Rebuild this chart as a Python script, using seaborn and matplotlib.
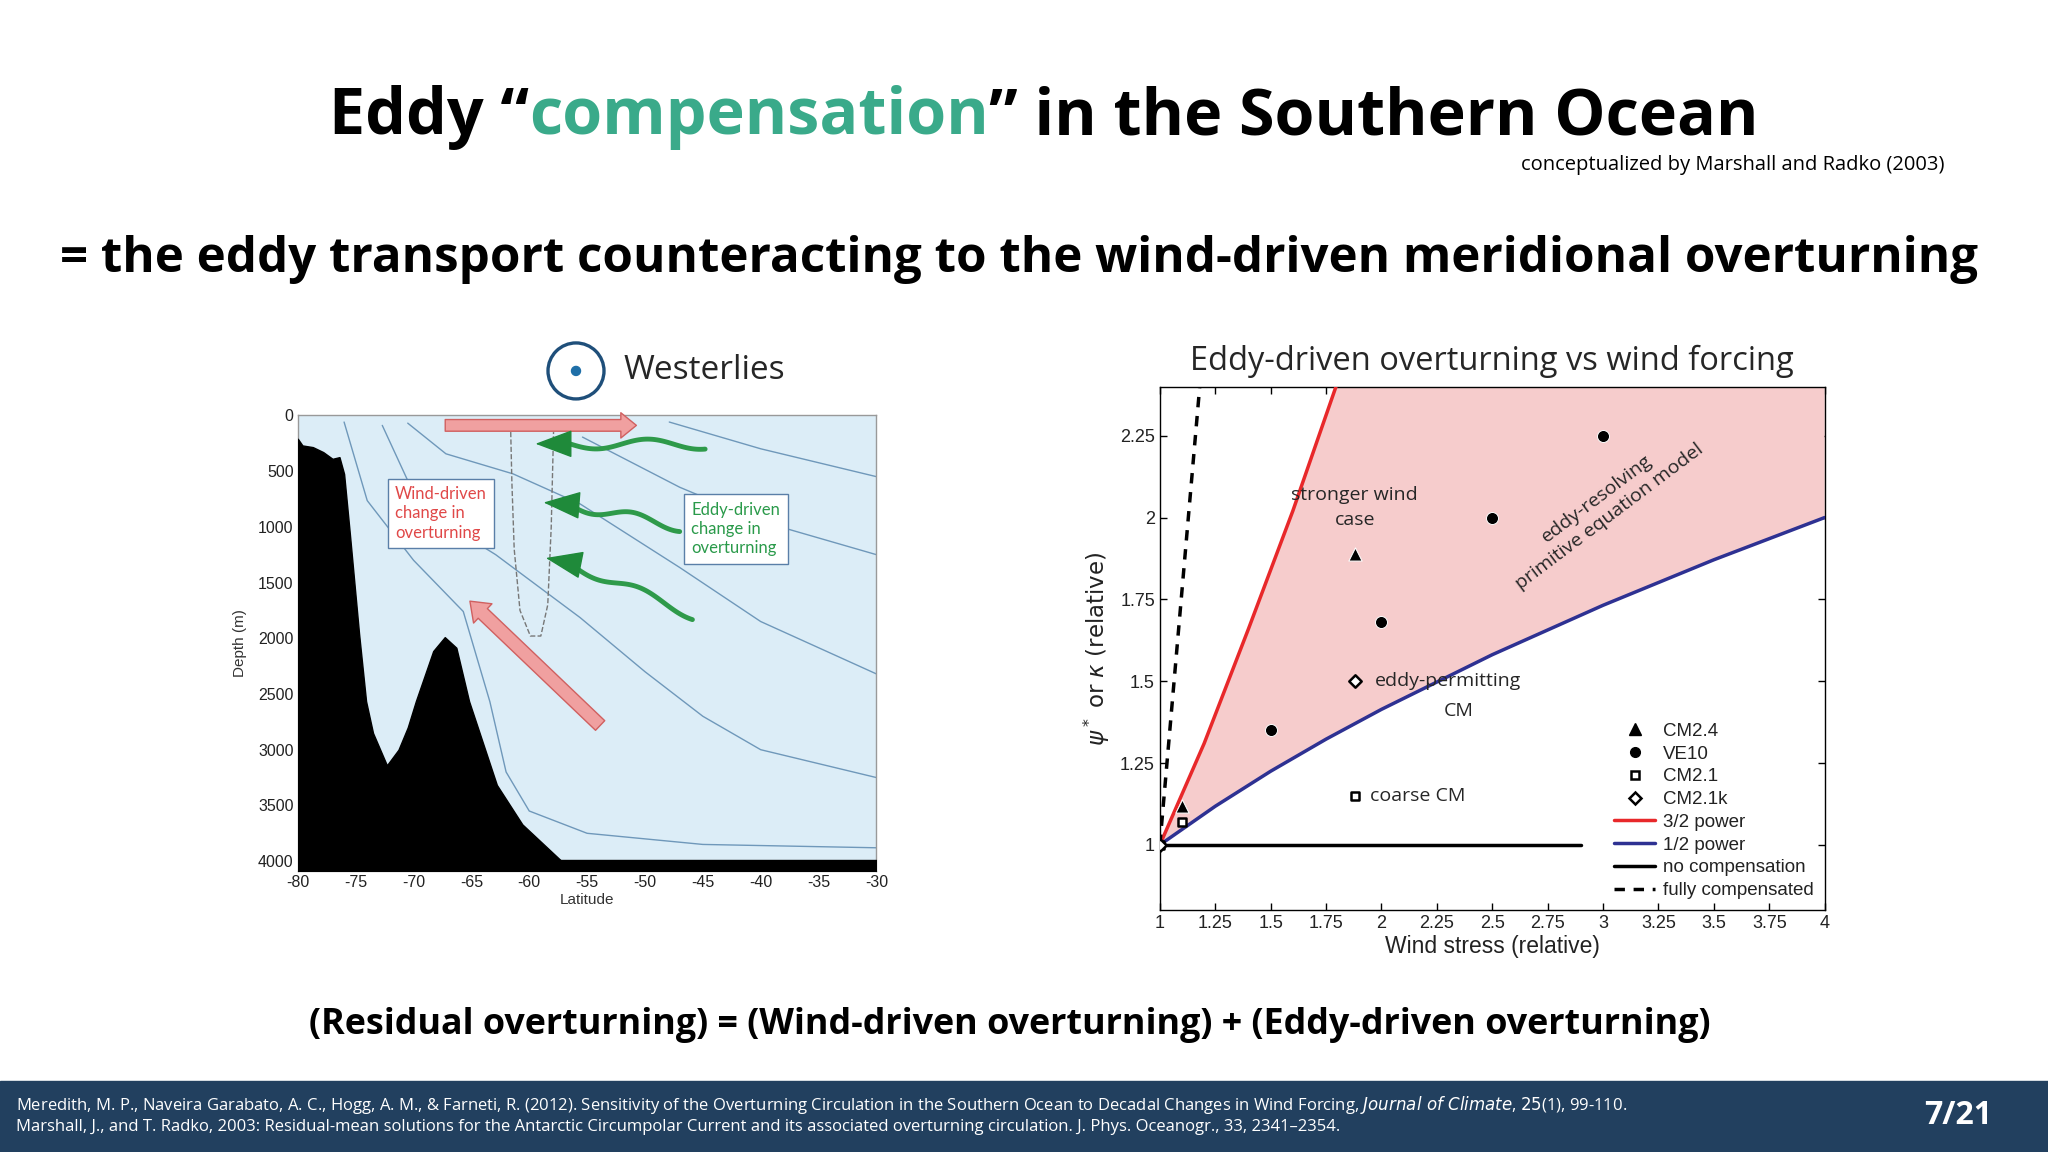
import numpy as np
import pandas as pd
import matplotlib
matplotlib.use("Agg")
import matplotlib.pyplot as plt
from matplotlib.lines import Line2D
from matplotlib.patches import Rectangle, Circle
import seaborn as sns

# ---------------- data ----------------
# right panel
wind_red = [1.0, 1.2, 1.4, 1.6, 1.8]
psi_red = [1.0, 1.31, 1.66, 2.02, 2.41]
wind_blue = [1.0, 1.25, 1.5, 1.75, 2.0, 2.5, 3.0, 3.5, 4.0]
psi_blue = [1.0, 1.118, 1.225, 1.323, 1.414, 1.581, 1.732, 1.871, 2.0]
wind_nocomp = [1.0, 2.9]
psi_nocomp = [1.0, 1.0]
wind_full = [1.0, 1.18]
psi_full = [1.0, 2.4]
cm24_x = [1.1, 1.88]; cm24_y = [1.12, 1.89]
ve10_x = [1.5, 2.0, 2.5, 3.0]; ve10_y = [1.35, 1.68, 2.0, 2.25]
cm21_x = [1.0, 1.1, 1.88]; cm21_y = [1.0, 1.07, 1.15]
cm21k_x = [1.0, 1.88]; cm21k_y = [1.0, 1.5]
xticks_r = [1, 1.25, 1.5, 1.75, 2, 2.25, 2.5, 2.75, 3, 3.25, 3.5, 3.75, 4]
yticks_r = [1, 1.25, 1.5, 1.75, 2, 2.25]

# left panel
bathy_lat = [-80, -79.6, -78.7, -77.8, -77, -76.4, -76, -75.5, -74.7, -74.1, -73.5, -72.3,
             -71.3, -70.5, -69.8, -68.3, -67.3, -66.3, -65.2, -62.8, -60.6, -57.2, -30]
bathy_dep = [210, 270, 285, 330, 390, 375, 525, 1065, 1965, 2565, 2850, 3140,
             3000, 2800, 2565, 2115, 1990, 2085, 2565, 3316, 3670, 4000, 4000]
contours = [
    ([-76, -74, -70, -65.7, -63.4, -62, -60, -55, -45, -30],
     [60, 765, 1300, 1760, 2570, 3200, 3550, 3750, 3850, 3880]),
    ([-72.7, -70.1, -66, -62.9, -55.6, -50, -45, -40, -30],
     [90, 675, 1050, 1250, 1815, 2300, 2700, 3000, 3250]),
    ([-70.5, -67.2, -61.4, -55.6, -47, -40, -30],
     [70, 345, 525, 795, 1365, 1850, 2320]),
    ([-55.4, -47, -40, -30], [195, 645, 950, 1250]),
    ([-47.9, -40, -30], [60, 300, 550]),
]
xticks_l = list(range(-80, -29, 5))
yticks_l = list(range(0, 4001, 500))

sns.set_theme(style="white")
plt.rcParams['font.family'] = ['Open Sans', 'DejaVu Sans']

fig = plt.figure(figsize=(20.48, 11.52), dpi=100)
W, H = 1568, 882
fx = lambda p: p / W
fy = lambda p: 1 - p / H

# titles
t_parts = [("Eddy \u201c", "black"), ("compensation", "#3aaa8a"), ("\u201d in the Southern Ocean", "black")]
renderer = fig.canvas.get_renderer()
x0 = fx(252)
for s, c in t_parts:
    t = fig.text(x0, fy(90), s, ha='left', va='center', fontsize=46.5, fontweight='bold', color=c)
    bb = t.get_window_extent(renderer=renderer)
    x0 += bb.width / fig.bbox.width
fig.text(fx(1489), fy(126), "conceptualized by Marshall and Radko (2003)", ha='right', va='center', fontsize=14.5,
         color='black')
fig.text(fx(780), fy(199), "= the eddy transport counteracting to the wind-driven meridional overturning",
         ha='center', va='center', fontsize=35.5, fontweight='bold', color='black')
fig.text(fx(773), fy(785), "(Residual overturning) = (Wind-driven overturning) + (Eddy-driven overturning)",
         ha='center', va='center', fontsize=25.8, fontweight='bold', color='black')

# bottom bar
fig.patches.append(Rectangle((0, 0), 1, 1 - 828 / H, transform=fig.transFigure, color='#22405f', zorder=0))
fig.text(fx(12), fy(846), "Meredith, M. P., Naveira Garabato, A. C., Hogg, A. M., & Farneti, R. (2012). Sensitivity of the Overturning Circulation in the Southern Ocean to Decadal Changes in Wind Forcing, $\\it{Journal\\ of\\ Climate}$, $\\it{25}$(1), 99-110.",
         color='white', fontsize=12, va='center')
fig.text(fx(12), fy(863), "Marshall, J., and T. Radko, 2003: Residual-mean solutions for the Antarctic Circumpolar Current and its associated overturning circulation. J. Phys. Oceanogr., 33, 2341\u20132354.",
         color='white', fontsize=12, va='center')
fig.text(fx(1525), fy(854), "7/21", color='white', fontsize=23, fontweight='bold', ha='right', va='center')

# ---------------- left panel ----------------
axl = fig.add_axes([fx(228), fy(667), fx(671) - fx(228), fy(318) - fy(667)])
axl.set_facecolor('#dcedf7')
for xs, ys in contours:
    sns.lineplot(x=xs, y=ys, ax=axl, color='#6f98ba', lw=1.0, sort=False, estimator=None)
axl.fill_between(bathy_lat, bathy_dep, 4100, color='black', zorder=3)
axl.fill_between([-80, -30], [3990, 3990], 4100, color='black', zorder=3)
axl.set_xlim(-80, -30)
axl.set_ylim(4090, 0)
axl.set_xticks(xticks_l)
axl.set_xticklabels([str(v) for v in xticks_l])
axl.set_yticks(yticks_l)
axl.set_yticklabels([str(v) for v in yticks_l])
axl.tick_params(labelsize=11.5, length=0, pad=3, colors='#222222')
for lab in axl.get_xticklabels() + axl.get_yticklabels():
    lab.set_family('Liberation Sans')
axl.set_xlabel("Latitude", fontsize=11, family='Liberation Sans', labelpad=2, color='#333333')
axl.set_ylabel("Depth (m)", fontsize=11, family='Liberation Sans', labelpad=8, color='#333333')
for s in axl.spines.values():
    s.set_color('#999999'); s.set_linewidth(1)

# dashed U
ux = [-61.6, -61.5, -61.3, -60.8, -59.9, -59.0, -58.4, -58.1, -57.9]
uy = [150, 600, 1200, 1750, 1980, 1980, 1700, 1000, 150]
axl.plot(ux, uy, ls='--', color='#777777', lw=1.0, zorder=4)
# pink arrows
axl.annotate("", xy=(-50.5, 90), xytext=(-67.5, 90),
             arrowprops=dict(arrowstyle='simple,head_length=0.8,head_width=1.3,tail_width=0.6',
                             fc='#f0a0a0', ec='#d06060', mutation_scale=14), zorder=5)
axl.annotate("", xy=(-65.3, 1650), xytext=(-53.7, 2800),
             arrowprops=dict(arrowstyle='simple,head_length=0.8,head_width=1.2,tail_width=0.6',
                             fc='#f0a0a0', ec='#d06060', mutation_scale=16), zorder=5)
# green wavy arrows
for (hx, hy, tx, ty) in [(-59.7, 255, -44.8, 260), (-59.0, 780, -47, 1000), (-58.8, 1275, -45.9, 1790)]:
    tt = np.linspace(0, 1, 60)
    sx = -56.5 + (tx + 56.5) * tt
    sy = (hy + (ty - hy) * 0.1) + (ty - hy) * 0.9 * tt + 45 * np.sin(tt * 2 * np.pi * 1.3)
    axl.plot(sx, sy, color='#2e9a4a', lw=3.5, solid_capstyle='round', zorder=5)
    axl.annotate("", xy=(hx, hy), xytext=(-56.3, sy[0]),
                 arrowprops=dict(arrowstyle='-|>,head_length=1.2,head_width=0.45', fc='#1f8a3a', ec='#1f8a3a', lw=1,
                                 mutation_scale=20), zorder=6)
axl.text(-71.6, 880, "Wind-driven\nchange in\noverturning", color='#e04848', fontsize=12, family='Lato',
         ha='left', va='center', linespacing=1.25, zorder=7,
         bbox=dict(boxstyle='square,pad=0.45', fc='white', ec='#5a7fa8', lw=1))
axl.text(-46.0, 1020, "Eddy-driven\nchange in\noverturning", color='#2a9a4a', fontsize=12, family='Lato',
         ha='left', va='center', linespacing=1.25, zorder=7,
         bbox=dict(boxstyle='square,pad=0.45', fc='white', ec='#5a7fa8', lw=1))

# westerlies
c1 = Circle((441 / W * 20.48, (1 - 284 / H) * 11.52), 0.28, transform=fig.dpi_scale_trans, fill=False,
            ec='#1f4f7a', lw=2.4)
c2 = Circle((441 / W * 20.48, (1 - 284 / H) * 11.52), 0.045, transform=fig.dpi_scale_trans, color='#1f6fa8')
fig.patches.extend([c1, c2])
fig.text(fx(477), fy(284), "Westerlies", fontsize=24, va='center')

# ---------------- right panel ----------------
axr = fig.add_axes([fx(888), fy(697), fx(1397) - fx(888), fy(296) - fy(697)])
poly_x = wind_red + [4.0] + wind_blue[::-1]
poly_y = psi_red + [2.41] + psi_blue[::-1]
axr.fill(poly_x, poly_y, color='#f6cccc', lw=0, zorder=1)
sns.lineplot(x=wind_red, y=psi_red, ax=axr, color='#e8282a', lw=2.5, estimator=None, zorder=3)
sns.lineplot(x=wind_blue, y=psi_blue, ax=axr, color='#2e3192', lw=2.5, estimator=None, zorder=3)
sns.lineplot(x=wind_nocomp, y=psi_nocomp, ax=axr, color='black', lw=2.5, estimator=None, zorder=3)
axr.plot(wind_full, psi_full, color='black', lw=2.5, ls=(0, (3, 2.5)), zorder=3)
sns.scatterplot(x=cm24_x, y=cm24_y, ax=axr, marker='^', s=90, color='black', zorder=5)
sns.scatterplot(x=ve10_x, y=ve10_y, ax=axr, marker='o', s=75, color='black', zorder=5)
axr.scatter(cm21_x, cm21_y, marker='s', s=40, facecolors='white', edgecolors='black', linewidths=1.8, zorder=5)
axr.scatter(cm21k_x, cm21k_y, marker='D', s=40, facecolors='white', edgecolors='black', linewidths=1.8, zorder=5)
axr.set_xlim(1, 4)
axr.set_ylim(0.8, 2.4)
axr.set_xticks(xticks_r)
axr.set_xticklabels([f"{v:g}" for v in xticks_r])
axr.set_yticks(yticks_r)
axr.set_yticklabels([f"{v:g}" for v in yticks_r])
axr.tick_params(direction='in', length=5, width=1, labelsize=13, top=True, right=True,
                bottom=True, left=True, color='black', labelcolor='#222222')
for lab in axr.get_xticklabels() + axr.get_yticklabels():
    lab.set_family('Liberation Sans')
for s in axr.spines.values():
    s.set_color('black'); s.set_linewidth(1)
axr.set_xlabel("Wind stress (relative)", fontsize=16.5, family='Liberation Sans', labelpad=2, color='#222222')
axr.set_ylabel(r"$\psi^*$ or $\kappa$ (relative)", fontsize=16.5, family='DejaVu Sans', labelpad=6, color='#222222')
axr.set_title("Eddy-driven overturning vs wind forcing", fontsize=23.5, pad=12)

axr.text(1.88, 2.03, "stronger wind\ncase", ha='center', va='center', fontsize=14, linespacing=1.5)
axr.text(1.97, 1.5, "eddy-permitting", ha='left', va='center', fontsize=14)
axr.text(2.35, 1.41, "CM", ha='center', va='center', fontsize=14)
axr.text(1.95, 1.15, "coarse CM", ha='left', va='center', fontsize=14)
axr.text(3.0, 2.03, "eddy-resolving\nprimitive equation model", ha='center', va='center', fontsize=14,
         rotation=37, linespacing=1.3)

handles = [
    Line2D([], [], marker='^', color='black', ls='none', ms=8),
    Line2D([], [], marker='o', color='black', ls='none', ms=7),
    Line2D([], [], marker='s', mfc='white', mec='black', mew=1.8, ls='none', ms=6),
    Line2D([], [], marker='D', mfc='white', mec='black', mew=1.8, ls='none', ms=6),
    Line2D([], [], color='#e8282a', lw=2.5),
    Line2D([], [], color='#2e3192', lw=2.5),
    Line2D([], [], color='black', lw=2.5),
    Line2D([], [], color='black', lw=2.5, ls=(0, (3, 2.5))),
]
labels = ["CM2.4", "VE10", "CM2.1", "CM2.1k", "3/2 power", "1/2 power", "no compensation", "fully compensated"]
leg = axr.legend(handles, labels, loc='lower right', frameon=False, fontsize=13.5, handlelength=2.2,
                 handletextpad=0.4, labelspacing=0.3, borderaxespad=0.2, bbox_to_anchor=(1.0, 0.0))
for t in leg.get_texts():
    t.set_family('Liberation Sans')
    t.set_color('#222222')

fig.savefig("out.png", dpi=100, facecolor='white')
